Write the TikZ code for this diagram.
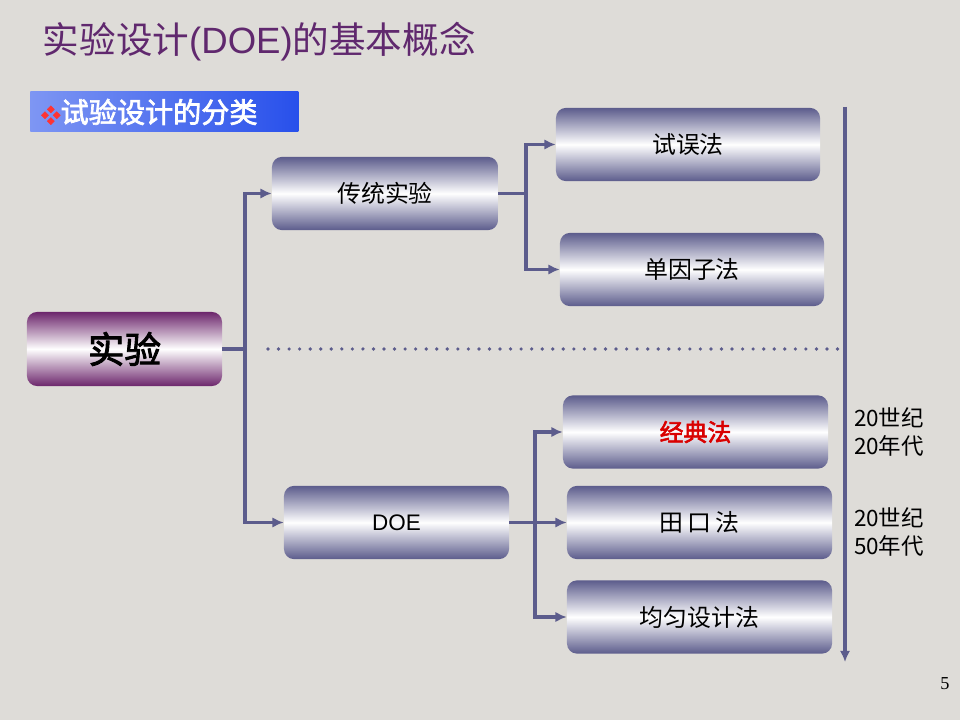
\documentclass[tikz,border=0pt]{standalone}
\usepackage{fontspec}
\setmainfont{Liberation Serif}
\newfontfamily\cjk{Noto Sans CJK SC}
\newfontfamily\cjkbf{Noto Sans CJK SC}[FakeBold=2.5]
\newfontfamily\gothic{Liberation Sans}
\usetikzlibrary{positioning,arrows.meta,calc}

\definecolor{bgray}{RGB}{222,220,216}
\definecolor{slate}{RGB}{92,92,140}
\definecolor{plum}{RGB}{108,38,108}
\definecolor{titlec}{RGB}{96,40,110}
\definecolor{barblue}{RGB}{40,80,235}

\tikzset{
  box/.style={rounded corners=0.25cm,top color=slate,bottom color=slate,middle color=white,
    minimum height=1.83cm,font=\cjk\fontsize{17}{19}\selectfont,text=black},
  link/.style={draw=slate,line width=2.2pt},
  tip/.style={-{Latex[length=2.8mm,width=2.6mm]}}
}

\begin{document}
\begin{tikzpicture}[x=0.025cm,y=-0.025cm]
  \useasboundingbox (0,0) rectangle (960,720);
  \fill[bgray] (0,0) rectangle (960,720);

  % title and heading bar
  \node[anchor=west,text=titlec,font=\cjk\fontsize{26}{30}\selectfont] (title) at (38,42)
    {实验设计{\gothic (DOE)}的基本概念};
  \node[anchor=west,left color=barblue!60!white,right color=barblue,minimum width=6.7cm,
    minimum height=1cm] (bar) at (30,112) {};
  \node[anchor=west,text=white,font=\cjkbf\fontsize{20}{22}\selectfont] (bartext) at (36,112)
    {{\color{red!80!white}\fontsize{14}{16}\selectfont ❖}试验设计的分类};

  % boxes
  \node[box,top color=plum,bottom color=plum,middle color=white,minimum width=4.875cm,
    minimum height=1.85cm,font=\cjkbf\fontsize{26}{30}\selectfont] (shiyan) at (124.5,349) {实验};
  \node[box,minimum width=5.65cm] (chuantong) at (385,193.5) {传统实验};
  \node[box,minimum width=6.6cm] (shiwu) at (688,144.5) {试误法};
  \node[box,minimum width=6.6cm] (danyinzi) at (692,269.5) {单因子法};
  \node[box,minimum width=5.625cm,font=\gothic\fontsize{16}{18}\selectfont] (doe) at (396.5,522.5) {DOE};
  \node[box,minimum width=6.625cm,text=red!85!black,font=\cjkbf\fontsize{17}{19}\selectfont] (jingdian) at (695.5,432) {经典法};
  \node[box,minimum width=6.625cm] (tiankou) at (699.5,522.5) {田\,口\,法};
  \node[box,minimum width=6.625cm] (junyun) at (699.5,617) {均匀设计法};

  % tree connectors
  \coordinate (f1) at (245,349);
  \coordinate (f2) at (526,193.5);
  \coordinate (f3) at (535,522.5);
  \draw[link] (shiyan.east) -- (f1);
  \draw[link,tip] (f1) |- (chuantong.west);
  \draw[link,tip] (f1) |- (doe.west);
  \draw[link] (chuantong.east) -- (f2);
  \draw[link,tip] (f2) |- (shiwu.west);
  \draw[link,tip] (f2) |- (danyinzi.west);
  \draw[link] (doe.east) -- (f3);
  \draw[link,tip] (f3) |- (jingdian.west);
  \draw[link,tip] (f3) -- (tiankou.west);
  \draw[link,tip] (f3) |- (junyun.west);

  % divider and time axis
  \coordinate (d1) at (268,349);
  \coordinate (d2) at (840,349);
  \draw[slate,line width=2.6pt,line cap=round,dash pattern=on 0pt off 7.5pt] (d1) -- (d2);
  \coordinate (ttop) at (845,107);
  \coordinate (tbot) at (845,662);
  \draw[link,tip] (ttop) -- (tbot);

  \node[align=left,font=\cjk\fontsize{16}{20}\selectfont] (era1) at (889,432) {20世纪\\20年代};
  \node[align=left,font=\cjk\fontsize{16}{20}\selectfont] (era2) at (889,532) {20世纪\\50年代};
  \node[font=\fontsize{13}{15}\selectfont] (page) at (945,684) {5};
\end{tikzpicture}
\end{document}
